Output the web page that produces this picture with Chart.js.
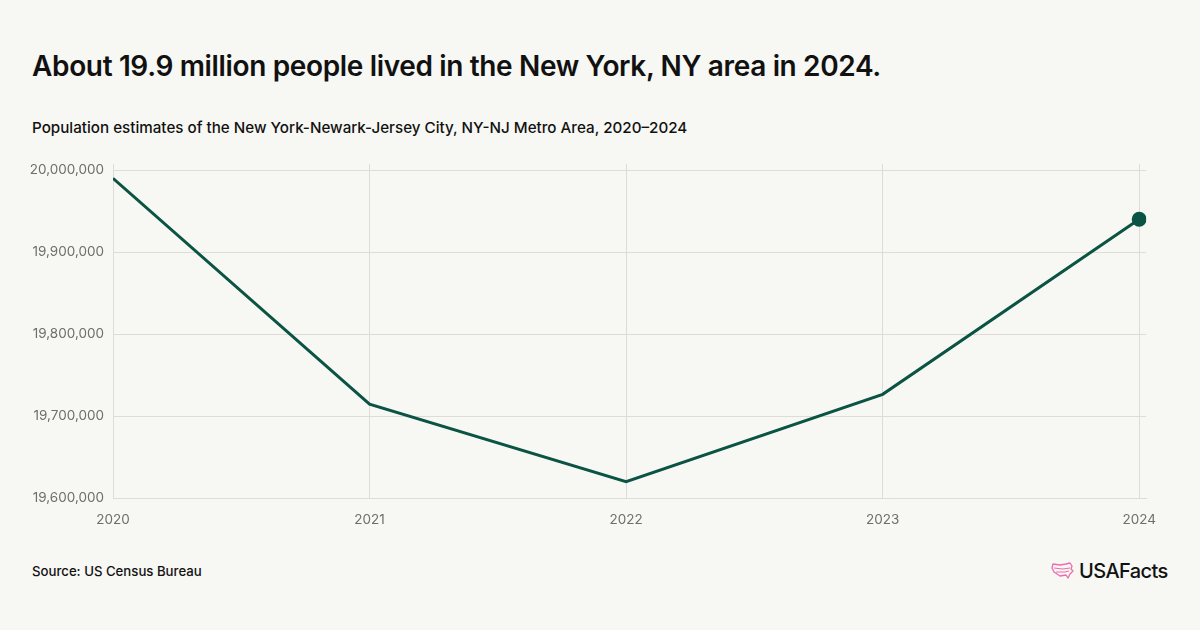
<!DOCTYPE html>
<html>
<head>
<meta charset="utf-8">
<script src="https://cdn.jsdelivr.net/npm/chart.js@4/dist/chart.umd.min.js"></script>
<style>
    html, body { margin: 0; padding: 0; }
    body {
        width: 1200px;
        height: 630px;
        background: #f7f7f3;
        position: relative;
        overflow: hidden;
        font-family: Inter, 'Noto Sans', sans-serif;
        color: #111;
    }
    #title {
        position: absolute;
        left: 32px;
        top: 49px;
        font-size: 28px;
        font-weight: 600;
        letter-spacing: -0.35px;
        white-space: nowrap;
    }
    #subtitle {
        position: absolute;
        left: 32px;
        top: 118px;
        font-size: 15.2px;
        font-weight: 500;
        white-space: nowrap;
    }
    #chartBox {
        position: absolute;
        left: 0;
        top: 147px;
        width: 1170px;
        height: 391px;
    }
    #source {
        position: absolute;
        left: 32px;
        top: 563px;
        font-size: 13.2px;
        font-weight: 500;
    }
    #logo {
        position: absolute;
        left: 1051px;
        top: 559px;
        display: flex;
        align-items: center;
        font-size: 20px;
        font-weight: 500;
        letter-spacing: -0.6px;
    }
    #logo svg { margin-right: 4px; }
</style>
</head>
<body>
<div id="title">About 19.9 million people lived in the New York, NY area in 2024.</div>
<div id="subtitle">Population estimates of the New York-Newark-Jersey City, NY-NJ Metro Area, 2020–2024</div>
<div id="chartBox"><canvas id="chart"></canvas></div>
<div id="source">Source: US Census Bureau</div>
<div id="logo">
    <svg width="24" height="20" viewBox="0 0 24 20">
        <path d="M2 3 L9 4 L15 3 L19 2 L21 5 L20 8 L22 10 L19 13 L17 17 L15 14 L9 15 L6 13 L3 11 L1 7 Z"
              fill="none" stroke="#f06aae" stroke-width="1.3" stroke-linejoin="round"/>
        <path d="M3 7 L12 8 L19 7 M5 11 L14 11 L18 10" fill="none" stroke="#f06aae" stroke-width="1"/>
    </svg>
    <span>USAFacts</span>
</div>
<script>
// chart data
const years = [2020, 2021, 2022, 2023, 2024];
const population = [19990000, 19714500, 19620000, 19726500, 19940000];
const yTicks = [19600000, 19700000, 19800000, 19900000, 20000000];

const lineColour = '#0b5443';
const gridColour = '#dddcd6';
const tickColour = '#6e6e6e';

const points = years.map((yr, i) => ({ x: yr, y: population[i] }));

new Chart(document.getElementById('chart'), {
    type: 'line',
    data: {
        datasets: [
            {
                label: 'Population',
                data: points,
                borderColor: lineColour,
                backgroundColor: lineColour,
                borderWidth: 3,
                tension: 0,
                // only the latest year gets a dot
                pointRadius: points.map((p, i) => (i === points.length - 1 ? 6 : 0)),
                pointHoverRadius: 6,
            },
        ],
    },
    options: {
        responsive: true,
        maintainAspectRatio: false,
        animation: false,
        layout: {
            padding: 0,
        },
        plugins: {
            legend: { display: false },
            tooltip: { enabled: false },
        },
        scales: {
            x: {
                type: 'linear',
                min: years[0],
                // a little room past 2024 so the gridlines run on a few px
                max: years[years.length - 1] + 0.0273,
                afterBuildTicks: (scale) => {
                    scale.ticks = years.map((v) => ({ value: v }));
                },
                afterFit: (scale) => {
                    scale.height = 40;
                },
                grid: {
                    color: gridColour,
                    drawTicks: false,
                },
                border: { color: gridColour },
                ticks: {
                    padding: 14,
                    color: tickColour,
                    font: { family: 'Inter', size: 13.5 },
                    maxRotation: 0,
                    callback: (v) => String(v),
                },
            },
            y: {
                min: yTicks[0],
                max: 20007300,
                afterBuildTicks: (scale) => {
                    scale.ticks = yTicks.map((v) => ({ value: v }));
                },
                afterFit: (scale) => {
                    scale.width = 113;
                },
                grid: {
                    color: gridColour,
                    drawTicks: false,
                },
                border: { color: gridColour },
                ticks: {
                    padding: 9,
                    color: tickColour,
                    font: { family: 'Inter', size: 13.5 },
                    callback: (v) => v.toLocaleString('en-US'),
                },
            },
        },
    },
});
</script>
</body>
</html>
